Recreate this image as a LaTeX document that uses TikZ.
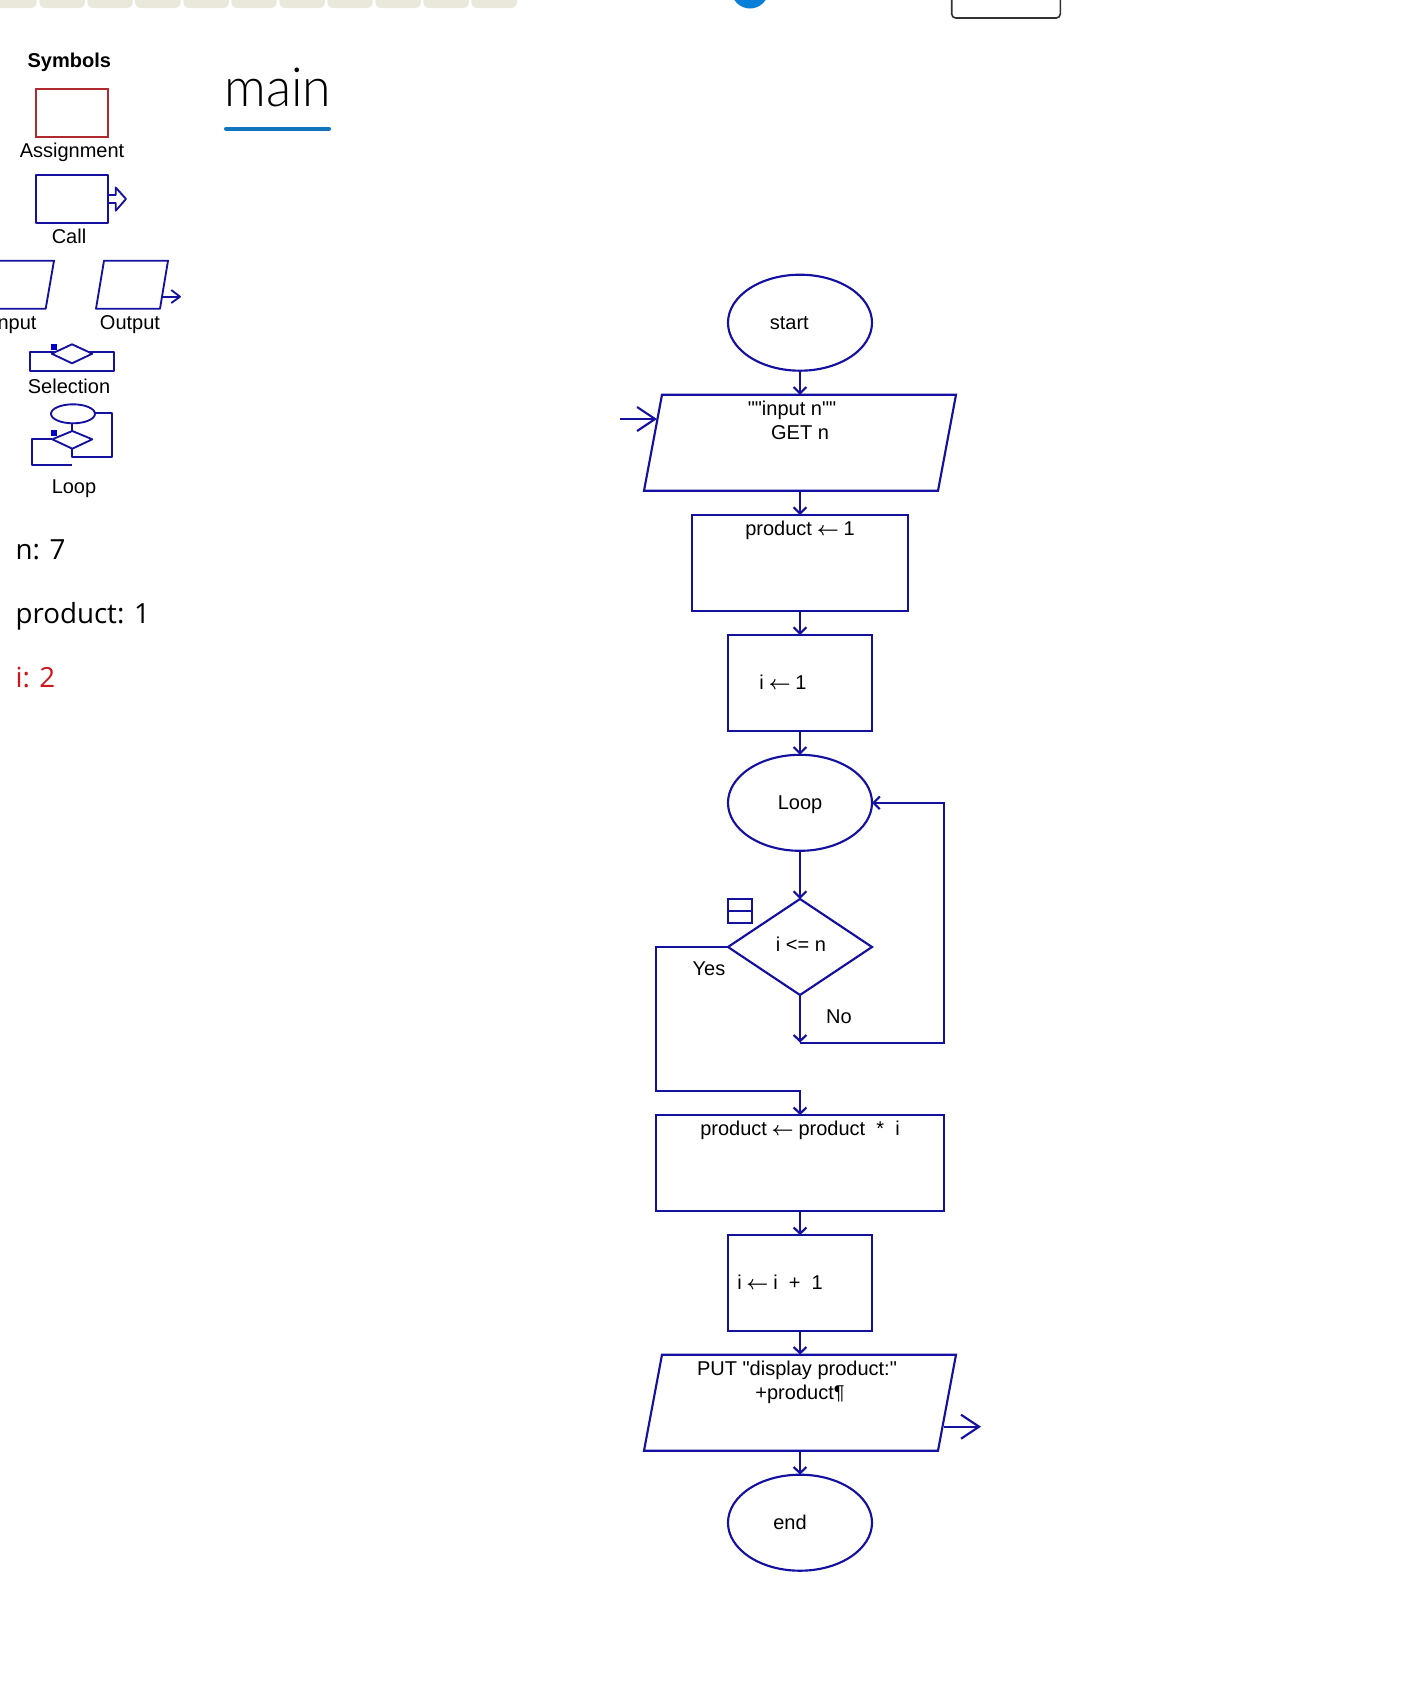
\documentclass[tikz,border=0pt]{standalone}
\usepackage{fontspec}
\usetikzlibrary{shapes.geometric,arrows.meta,calc}
\setmainfont{Liberation Sans}[Ligatures=TeXOff]
\newfontfamily\titlef{Lato Light}
\newfontfamily\varf{Open Sans}
\definecolor{fc}{HTML}{1410A0}
\definecolor{redbox}{HTML}{B02A30}
\definecolor{tabc}{HTML}{EAE8DB}
\definecolor{bluec}{HTML}{0A7FD8}
\definecolor{ulc}{HTML}{0F75BC}
\definecolor{redt}{HTML}{D0151C}
\newcommand{\larr}{{\kern-0.6pt\boldmath$\leftarrow$\kern-0.6pt}}
\tikzset{
  px/.style={x=0.75pt,y=-0.75pt},
  fcline/.style={draw=fc,line width=1.6pt,line join=miter},
  ell/.style={shape=ellipse,fcline,minimum width=108pt,minimum height=72pt,inner sep=0pt,outer sep=0pt},
  recbox/.style={shape=rectangle,fcline,inner sep=0pt,outer sep=0pt,minimum height=72pt},
  paraframe/.style={shape=rectangle,inner sep=0pt,outer sep=0pt,minimum width=234pt,minimum height=72pt},
  dia/.style={shape=diamond,fcline,minimum width=108pt,minimum height=72pt,inner sep=0pt,outer sep=0pt},
  lab/.style={anchor=base,inner sep=0pt,outer sep=0pt,font=\fontsize{15}{18}\selectfont,text=black},
  conn/.style={fcline,-{Straight Barb[length=4.7pt,width=9.5pt]}},
  bigconn/.style={fcline,-{Straight Barb[length=13.5pt,width=18pt]}},
  iconline/.style={draw=fc,line width=1.4pt,line join=round},
  varlab/.style={anchor=base west,inner sep=0pt,outer sep=0pt,font=\varf\fontsize{20.8}{25}\selectfont},
}
\begin{document}
\begin{tikzpicture}[px]
\useasboundingbox (0,0) rectangle (1400,1707);
\begin{scope}
\clip (0,0) rectangle (1400,1707);
% top strip
\foreach \a/\b in {-9/36.7,39.3/85,87.3/132.7,135/180.7,183.3/229,231.3/276.7,279.3/325,327.3/372.7,375.3/421,423.3/469,471.3/517}
  \fill[tabc,rounded corners=4.5pt] (\a,-20) rectangle (\b,8);
\fill[bluec] (750,-10) circle (18.5);
\draw[draw=black!80,line width=1.2pt,rounded corners=3pt] (951.7,-20) rectangle (1060.3,18);
\end{scope}
% title
\node[anchor=base,inner sep=0pt,font=\titlef\fontsize{40.5}{46}\selectfont,xscale=0.96,text=black] (title) at (278,106.5) {main};
\draw[ulc,line width=3pt,line cap=round] (226,128.7) -- (329,128.7);
% palette
\node[lab,font=\bfseries\fontsize{15}{18}\selectfont] (sym) at (69.3,67.7) {Symbols};
\draw[draw=redbox,line width=1.4pt] (35.7,89) rectangle (108.3,137);
\node[lab] (lassign) at (72,157.7) {Assignment};
\draw[iconline] (35.7,175) rectangle (108.3,223);
\draw[iconline] (108.3,195) -- (115.7,195) -- (115.7,187.5) -- (126,199) -- (115.7,210.7) -- (115.7,203) -- (108.3,203);
\node[lab] (lcall) at (69,243.7) {Call};
\draw[iconline] (-10,260.7) -- (54,260.7) -- (45.7,308.7) -- (-10,308.7);
\node[lab,anchor=base east] (linput) at (36.5,329.3) {nput};
\draw[iconline] (104,260.7) -- (168,260.7) -- (160,308.7) -- (96,308.7) -- cycle;
\draw[iconline] (161.7,296.7) -- (180,296.7);
\draw[iconline] (171.3,290) -- (180,296.7) -- (171.3,303);
\node[lab] (loutput) at (130,329.3) {Output};
\draw[iconline] (29.7,352.3) rectangle (114.3,371);
\draw[iconline,fill=white] (72,344.3) -- (92.3,353.7) -- (72,363.3) -- (51.7,353.7) -- cycle;
\fill[blue!80!black] (51,344) rectangle (57,350);
\node[lab] (lsel) at (69,393.7) {Selection};
\draw[iconline] (73,413.8) ellipse (22 and 9.5);
\draw[iconline] (72.3,423.3) -- (72.3,431);
\draw[iconline] (72.3,431) -- (92.3,439.3) -- (72.3,448.7) -- (52.3,439.3) -- cycle;
\draw[iconline] (52.3,439) -- (31.7,439) -- (31.7,465) -- (72,465);
\draw[iconline] (95,412.7) -- (112.3,412.7) -- (112.3,456.7) -- (72.3,456.7) -- (72.3,448.7);
\fill[blue!80!black] (51,430) rectangle (57,436);
\node[lab] (lloop) at (74,493.7) {Loop};
% variables
\node[varlab] (vn) at (15.5,559.3) {n: 7};
\node[varlab] (vp) at (15.5,623.7) {product: 1};
\node[varlab,text=redt] (vi) at (15.5,687.7) {i: 2};
% flowchart
\node[ell] (start) at (800,322.7) {};
\node[paraframe] (input) at (800,442.8) {};
\node[recbox,minimum width=162pt] (prod) at (800,563) {};
\node[recbox,minimum width=108pt] (iset) at (800,683) {};
\node[ell] (loop) at (800,802.8) {};
\node[dia] (cond) at (800,947) {};
\node[recbox,minimum width=216pt] (mult) at (800,1163.2) {};
\node[recbox,minimum width=108pt] (incr) at (800,1283.2) {};
\node[paraframe] (output) at (800,1402.7) {};
\node[ell] (end) at (800,1522.7) {};
\foreach \n in {input,output}
  \draw[fcline] (\n.north east) -- ($(\n.south east)+(-18,0)$) -- (\n.south west) -- ($(\n.north west)+(18,0)$) -- cycle;
\coordinate (nojoin) at (800,1042.7);
\coordinate (noright) at (944,1042.7);
\coordinate (noup) at (944,802.8);
\coordinate (yesleft) at (656,947);
\coordinate (yesdown) at (656,1090.7);
\coordinate (yesin) at (800,1090.7);
\coordinate (inA) at (620,419);
\coordinate (inB) at (657,419);
\coordinate (outA) at (944,1426.7);
\coordinate (outB) at (981,1426.7);
\draw[conn] (start.south) -- (input.north);
\draw[conn] (input.south) -- (prod.north);
\draw[conn] (prod.south) -- (iset.north);
\draw[conn] (iset.south) -- (loop.north);
\draw[conn] (loop.south) -- (cond.north);
\draw[conn] (cond.south) -- (nojoin);
\draw[conn] (nojoin) -- (noright) -- (noup) -- (loop.east);
\draw[conn] (cond.west) -- (yesleft) -- (yesdown) -- (yesin) -- (mult.north);
\draw[conn] (mult.south) -- (incr.north);
\draw[conn] (incr.south) -- (output.north);
\draw[conn] (output.south) -- (end.north);
\draw[bigconn] (inA) -- (inB);
\draw[bigconn] (outA) -- (outB);
\draw[fcline] (727.7,898.7) rectangle (752,923.3);
\draw[fcline] (727.7,911) -- (752,911);
% labels
\node[lab] (tstart) at (789.3,329) {start};
\node[lab] (tin1) at (792,415) {""input n""};
\node[lab] (tin2) at (800,439) {GET n};
\node[lab] (tprod) at (800,535) {product \larr{} 1};
\node[lab] (tiset) at (783,689) {i \larr{} 1};
\node[lab] (tloop) at (800,809) {Loop};
\node[lab] (tcond) at (801,951.7) {i <= n};
\node[lab] (tyes) at (709,975) {Yes};
\node[lab] (tno) at (839,1023.7) {No};
\node[lab] (tmult) at (800,1135.3) {product \larr{} product\ \ *\ \ i};
\node[lab] (tincr) at (780,1289) {i \larr{} i\ \ +\ \ 1};
\node[lab] (tput1) at (797,1375) {PUT "display product:"};
\node[lab] (tput2) at (800,1399.3) {+product¶};
\node[lab] (tend) at (790,1529) {end};
\end{tikzpicture}
\end{document}
